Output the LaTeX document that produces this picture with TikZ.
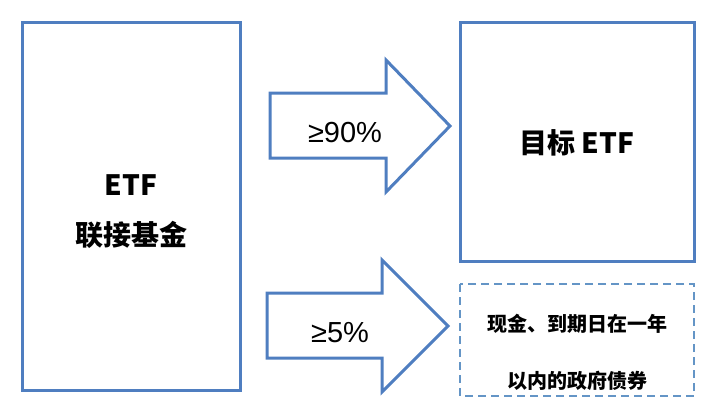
\documentclass[tikz,border=0pt]{standalone}
\usepackage{fontspec}
\setmainfont{Liberation Sans}
\newfontfamily\cjk{Noto Sans CJK SC}
\definecolor{bl}{HTML}{4F7EC0}
\definecolor{bd}{HTML}{6495C6}
\begin{document}
\begin{tikzpicture}[x=1pt,y=-1pt,
  boxs/.style={draw=bl,line width=3pt},
  arr/.style={draw=bl,line width=3pt,line join=miter},
  lab/.style={font=\fontsize{29}{34}\selectfont},
  bt/.style={font=\cjk\bfseries\fontsize{28}{34}\selectfont},
  st/.style={font=\cjk\bfseries\fontsize{20}{24}\selectfont}]
\useasboundingbox (0,0) rectangle (711,416);
\draw[boxs] (22,22) rectangle (240,390);
\node[bt] (etf) at (131,185) {ETF};
\node[bt] (lj) at (131,235) {联接基金};
\draw[arr] (270,93) -- (386,93) -- (386,60) -- (450,126) -- (386,192) -- (386,158) -- (270,158) -- cycle;
\node[lab] (a1) at (345,133) {≥90\%};
\draw[boxs] (460,22) rectangle (694,261);
\node[bt] (t) at (577,143) {目标 ETF};
\draw[arr] (267,293) -- (382,293) -- (382,260) -- (448,326) -- (382,392) -- (382,358) -- (267,358) -- cycle;
\node[lab] (a2) at (340,333) {≥5\%};
\draw[draw=bd,line width=2.6pt,dash pattern=on 8pt off 5pt] (460,284) rectangle (694,396);
\node[st] (c1) at (577,324) {现金、到期日在一年};
\node[st] (c2) at (577,381) {以内的政府债券};
\end{tikzpicture}
\end{document}
